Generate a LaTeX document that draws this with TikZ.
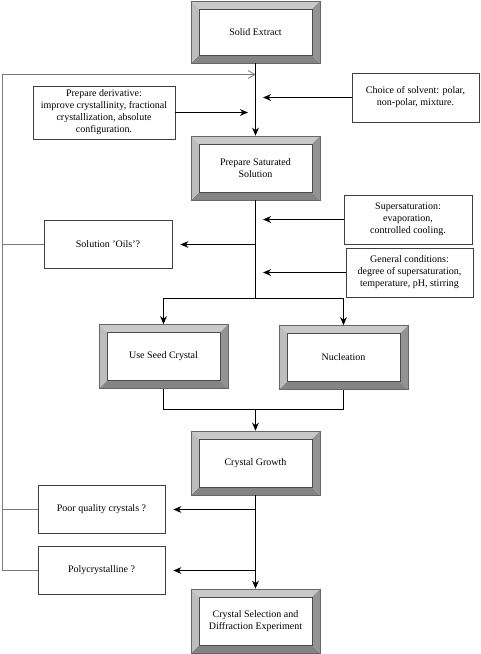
\documentclass[tikz,border=0pt]{standalone}
\usepackage{fontspec}
\setmainfont{Liberation Serif}
\usetikzlibrary{arrows.meta}
\definecolor{bevT}{HTML}{C9C9C9}
\definecolor{bevL}{HTML}{BDBDBD}
\definecolor{bevR}{HTML}{939393}
\definecolor{bevB}{HTML}{848484}
\definecolor{fbgray}{HTML}{7A7A7A}
\begin{document}
\begin{tikzpicture}[x=0.75pt,y=-0.75pt,
  font=\fontsize{7.5}{9}\selectfont,
  bevbox/.style={draw=gray!80!black, line width=0.4pt, minimum width=96.75pt,
    minimum height=48pt, align=center, inner sep=0pt,
    path picture={
      \coordinate (bvnw) at (path picture bounding box.north west);
      \coordinate (bvse) at (path picture bounding box.south east);
      \coordinate (bvne) at (bvse |- bvnw);
      \coordinate (bvsw) at (bvnw |- bvse);
      \fill[bevT] (bvnw) -- (bvne) -- ([shift={(-6pt,-6pt)}]bvne) -- ([shift={(6pt,-6pt)}]bvnw) -- cycle;
      \fill[bevB] (bvsw) -- (bvse) -- ([shift={(-6pt,6pt)}]bvse) -- ([shift={(6pt,6pt)}]bvsw) -- cycle;
      \fill[bevL] (bvnw) -- (bvsw) -- ([shift={(6pt,6pt)}]bvsw) -- ([shift={(6pt,-6pt)}]bvnw) -- cycle;
      \fill[bevR] (bvne) -- (bvse) -- ([shift={(-6pt,6pt)}]bvse) -- ([shift={(-6pt,-6pt)}]bvne) -- cycle;
      \draw[gray!60!black, line width=0.3pt] ([shift={(6pt,-6pt)}]bvnw) rectangle ([shift={(-6pt,6pt)}]bvse);
    }},
  plainbox/.style={draw=black!75, line width=0.5pt, fill=white, align=center, inner sep=1pt},
  mainline/.style={line width=0.9pt, black},
  arr/.style={mainline, -{Stealth[length=6pt,width=5pt,inset=1.8pt]}},
  fbline/.style={line width=0.6pt, fbgray},
  fbarr/.style={fbline, -{Straight Barb[length=5pt,width=6pt]}}
]
\useasboundingbox (0,0) rectangle (480,654);

% main column
\node[bevbox, minimum height=46.5pt] (solid) at (255.5,32) {Solid Extract};
\node[bevbox] (sat) at (255.5,168) {Prepare Saturated\\Solution};
\node[bevbox] (seed) at (163.5,356.5) {Use Seed Crystal};
\node[bevbox] (nuc) at (343.5,357.5) {Nucleation};
\node[bevbox] (growth) at (255.5,463) {Crystal Growth};
\node[bevbox] (select) at (255.5,621) {Crystal Selection and\\Diffraction Experiment};

% side boxes
\node[plainbox, minimum width=106.5pt, minimum height=39.75pt] (deriv) at (104,112.5)
  {Prepare derivative:\\improve crystallinity, fractional\\crystallization, absolute\\configuration.};
\node[plainbox, minimum width=95.25pt, minimum height=36.75pt] (solvent) at (415.5,97.5)
  {Choice of solvent: polar,\\non-polar, mixture.};
\node[plainbox, minimum width=96pt, minimum height=36.75pt] (super) at (408,219.5)
  {Supersaturation:\\evaporation,\\controlled cooling.};
\node[plainbox, minimum width=95.25pt, minimum height=36.75pt] (general) at (409.5,272.5)
  {General conditions:\\degree of supersaturation,\\temperature, pH, stirring};
\node[plainbox, minimum width=96pt, minimum height=36pt] (oils) at (108,244.5)
  {Solution 'Oils'?};
\node[plainbox, minimum width=95.25pt, minimum height=36pt] (poor) at (101.5,509.5)
  {Poor quality crystals ?};
\node[plainbox, minimum width=95.25pt, minimum height=36pt] (poly) at (101.5,570.5)
  {Polycrystalline ?};

% coordinates
\coordinate (fbl) at (2.5,74.5);
\coordinate (fbtop) at (255.5,74.5);
\coordinate (split) at (255.5,298.5);
\coordinate (join) at (255.5,409.5);

% feedback loop
\draw[fbarr] (poly.west) -| (fbl) -- (fbtop);
\draw[fbline] (poor.west) -- (poor.west -| fbl);
\draw[fbline] (oils.west) -- (oils.west -| fbl);

% main flow
\draw[arr] (solid) -- (sat);
\draw[arr, shorten >=5.6pt] (deriv.east) -- (deriv.east -| sat);
\draw[arr, shorten >=5.6pt] (solvent.west) -- (solvent.west -| sat);
\draw[mainline] (sat.south) -- (split);
\draw[arr, shorten >=5.6pt] (super.west) -- (super.west -| sat);
\draw[arr, shorten >=5.6pt] (general.west) -- (general.west -| sat);
\draw[arr, shorten >=6pt] (oils.east -| sat) -- (oils.east);
\draw[mainline, line cap=rect] (seed.north |- split) -- (nuc.north |- split);
\draw[arr] (seed.north |- split) -- (seed.north);
\draw[arr] (nuc.north |- split) -- (nuc.north);
\draw[mainline, line join=miter] (seed.south) |- (nuc.south |- join) -- (nuc.south);
\draw[arr] (join) -- (growth.north);
\draw[arr] (growth.south) -- (select.north);
\draw[arr, shorten >=6pt] (poor.east -| growth) -- (poor.east);
\draw[arr, shorten >=6pt] (poly.east -| growth) -- (poly.east);
\end{tikzpicture}
\end{document}
